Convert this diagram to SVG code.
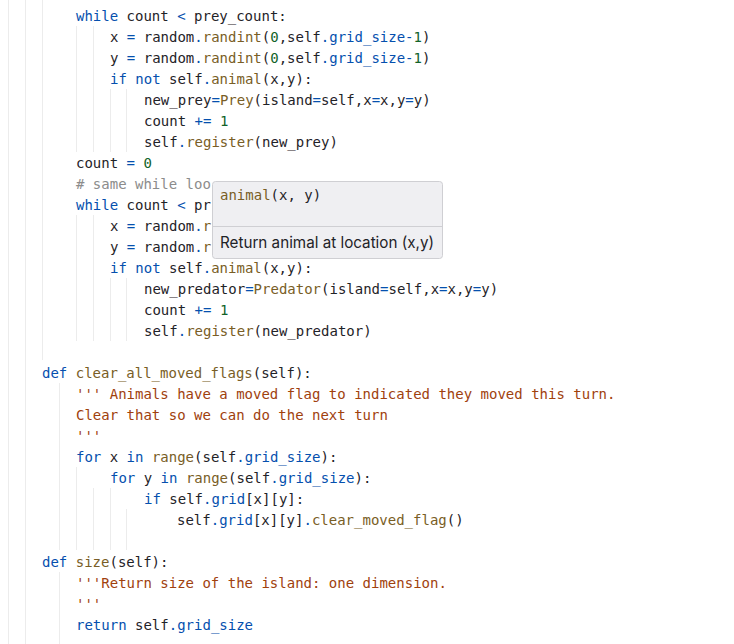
<svg xmlns="http://www.w3.org/2000/svg" width="734" height="644" viewBox="0 0 734 644">
<style>
.c{font-family:"DejaVu Sans Mono",monospace;font-size:14px;fill:#1f2328;white-space:pre}
.k{fill:#0550ae}.f{fill:#795e26}.n{fill:#116329}.s{fill:#a0410d}.m{fill:#8c8c8c}.o{fill:#0550ae}
.g{stroke:#ececec;stroke-width:1}
</style>
<rect width="734" height="644" fill="#fff"/>
<g id="guides" class="g">
<line x1="8.5" y1="0" x2="8.5" y2="644"/><line x1="25.5" y1="0" x2="25.5" y2="644"/>
<line x1="42.5" y1="0" x2="42.5" y2="360"/>
<line x1="76.5" y1="26" x2="76.5" y2="152"/><line x1="93.5" y1="26" x2="93.5" y2="152"/>
<line x1="110.5" y1="89" x2="110.5" y2="152"/><line x1="126.5" y1="89" x2="126.5" y2="152"/>
<line x1="76.5" y1="215" x2="76.5" y2="341"/><line x1="93.5" y1="215" x2="93.5" y2="341"/>
<line x1="110.5" y1="278" x2="110.5" y2="341"/><line x1="126.5" y1="278" x2="126.5" y2="341"/>
<line x1="59.5" y1="383" x2="59.5" y2="550"/><line x1="76.5" y1="467" x2="76.5" y2="550"/><line x1="93.5" y1="488" x2="93.5" y2="550"/><line x1="110.5" y1="488" x2="110.5" y2="550"/><line x1="126.5" y1="509" x2="126.5" y2="550"/>
<line x1="59.5" y1="572" x2="59.5" y2="644"/>
</g>
<g id="code" class="c">
<text x="76" y="21"><tspan class="k">while</tspan> count <tspan class="o">&lt;</tspan> prey_count:</text>
<text x="110" y="42">x <tspan class="o">=</tspan> random<tspan class="o">.</tspan><tspan class="f">randint</tspan>(<tspan class="n">0</tspan>,self<tspan class="o">.</tspan><tspan class="k">grid_size</tspan><tspan class="o">-</tspan><tspan class="n">1</tspan>)</text>
<text x="110" y="63">y <tspan class="o">=</tspan> random<tspan class="o">.</tspan><tspan class="f">randint</tspan>(<tspan class="n">0</tspan>,self<tspan class="o">.</tspan><tspan class="k">grid_size</tspan><tspan class="o">-</tspan><tspan class="n">1</tspan>)</text>
<text x="110" y="84"><tspan class="k">if not</tspan> self<tspan class="o">.</tspan><tspan class="f">animal</tspan>(x,y):</text>
<text x="144" y="105">new_prey<tspan class="o">=</tspan><tspan class="f">Prey</tspan>(island<tspan class="o">=</tspan>self,x<tspan class="o">=</tspan>x,y<tspan class="o">=</tspan>y)</text>
<text x="144" y="126">count <tspan class="o">+=</tspan> <tspan class="n">1</tspan></text>
<text x="144" y="147">self<tspan class="o">.</tspan><tspan class="f">register</tspan>(new_prey)</text>
<text x="76" y="168">count <tspan class="o">=</tspan> <tspan class="n">0</tspan></text>
<text x="76" y="189" class="m"># same while loo</text>
<text x="76" y="210"><tspan class="k">while</tspan> count <tspan class="o">&lt;</tspan> pr</text>
<text x="110" y="231">x <tspan class="o">=</tspan> random<tspan class="o">.</tspan><tspan class="f">r</tspan></text>
<text x="110" y="252">y <tspan class="o">=</tspan> random<tspan class="o">.</tspan><tspan class="f">r</tspan></text>
<text x="110" y="273"><tspan class="k">if not</tspan> self<tspan class="o">.</tspan><tspan class="f">animal</tspan>(x,y):</text>
<text x="144" y="294">new_predator<tspan class="o">=</tspan><tspan class="f">Predator</tspan>(island<tspan class="o">=</tspan>self,x<tspan class="o">=</tspan>x,y<tspan class="o">=</tspan>y)</text>
<text x="144" y="315">count <tspan class="o">+=</tspan> <tspan class="n">1</tspan></text>
<text x="144" y="336">self<tspan class="o">.</tspan><tspan class="f">register</tspan>(new_predator)</text>
<text x="42" y="378"><tspan class="k">def</tspan> <tspan class="f">clear_all_moved_flags</tspan>(self):</text>
<text x="76" y="399" class="s">''' Animals have a moved flag to indicated they moved this turn.</text>
<text x="76" y="420" class="s">Clear that so we can do the next turn</text>
<text x="76" y="441" class="s">'''</text>
<text x="76" y="462"><tspan class="k">for</tspan> x <tspan class="k">in</tspan> <tspan class="f">range</tspan>(self<tspan class="o">.</tspan><tspan class="k">grid_size</tspan>):</text>
<text x="110" y="483"><tspan class="k">for</tspan> y <tspan class="k">in</tspan> <tspan class="f">range</tspan>(self<tspan class="o">.</tspan><tspan class="k">grid_size</tspan>):</text>
<text x="144" y="504"><tspan class="k">if</tspan> self<tspan class="o">.</tspan><tspan class="k">grid</tspan>[x][y]:</text>
<text x="177" y="525">self<tspan class="o">.</tspan><tspan class="k">grid</tspan>[x][y]<tspan class="o">.</tspan><tspan class="f">clear_moved_flag</tspan>()</text>
<text x="42" y="567"><tspan class="k">def</tspan> <tspan class="f">size</tspan>(self):</text>
<text x="76" y="588" class="s">'''Return size of the island: one dimension.</text>
<text x="76" y="609" class="s">'''</text>
<text x="76" y="630"><tspan class="k">return</tspan> self<tspan class="o">.</tspan><tspan class="k">grid_size</tspan></text>
</g>
<g id="tooltip">
<rect x="212.5" y="181.5" width="230" height="77" rx="3" fill="#efeff2" stroke="#cfcfd3"/>
<line x1="212.5" y1="226.5" x2="442.5" y2="226.5" stroke="#cfcfd3"/>
<text x="220" y="200" class="c"><tspan class="f">animal</tspan>(x, y)</text>
<text x="220" y="248" font-family="Inter,'Noto Sans',sans-serif" font-size="16" textLength="214" lengthAdjust="spacingAndGlyphs" fill="#1f2328">Return animal at location (x,y)</text>
</g>
</svg>
